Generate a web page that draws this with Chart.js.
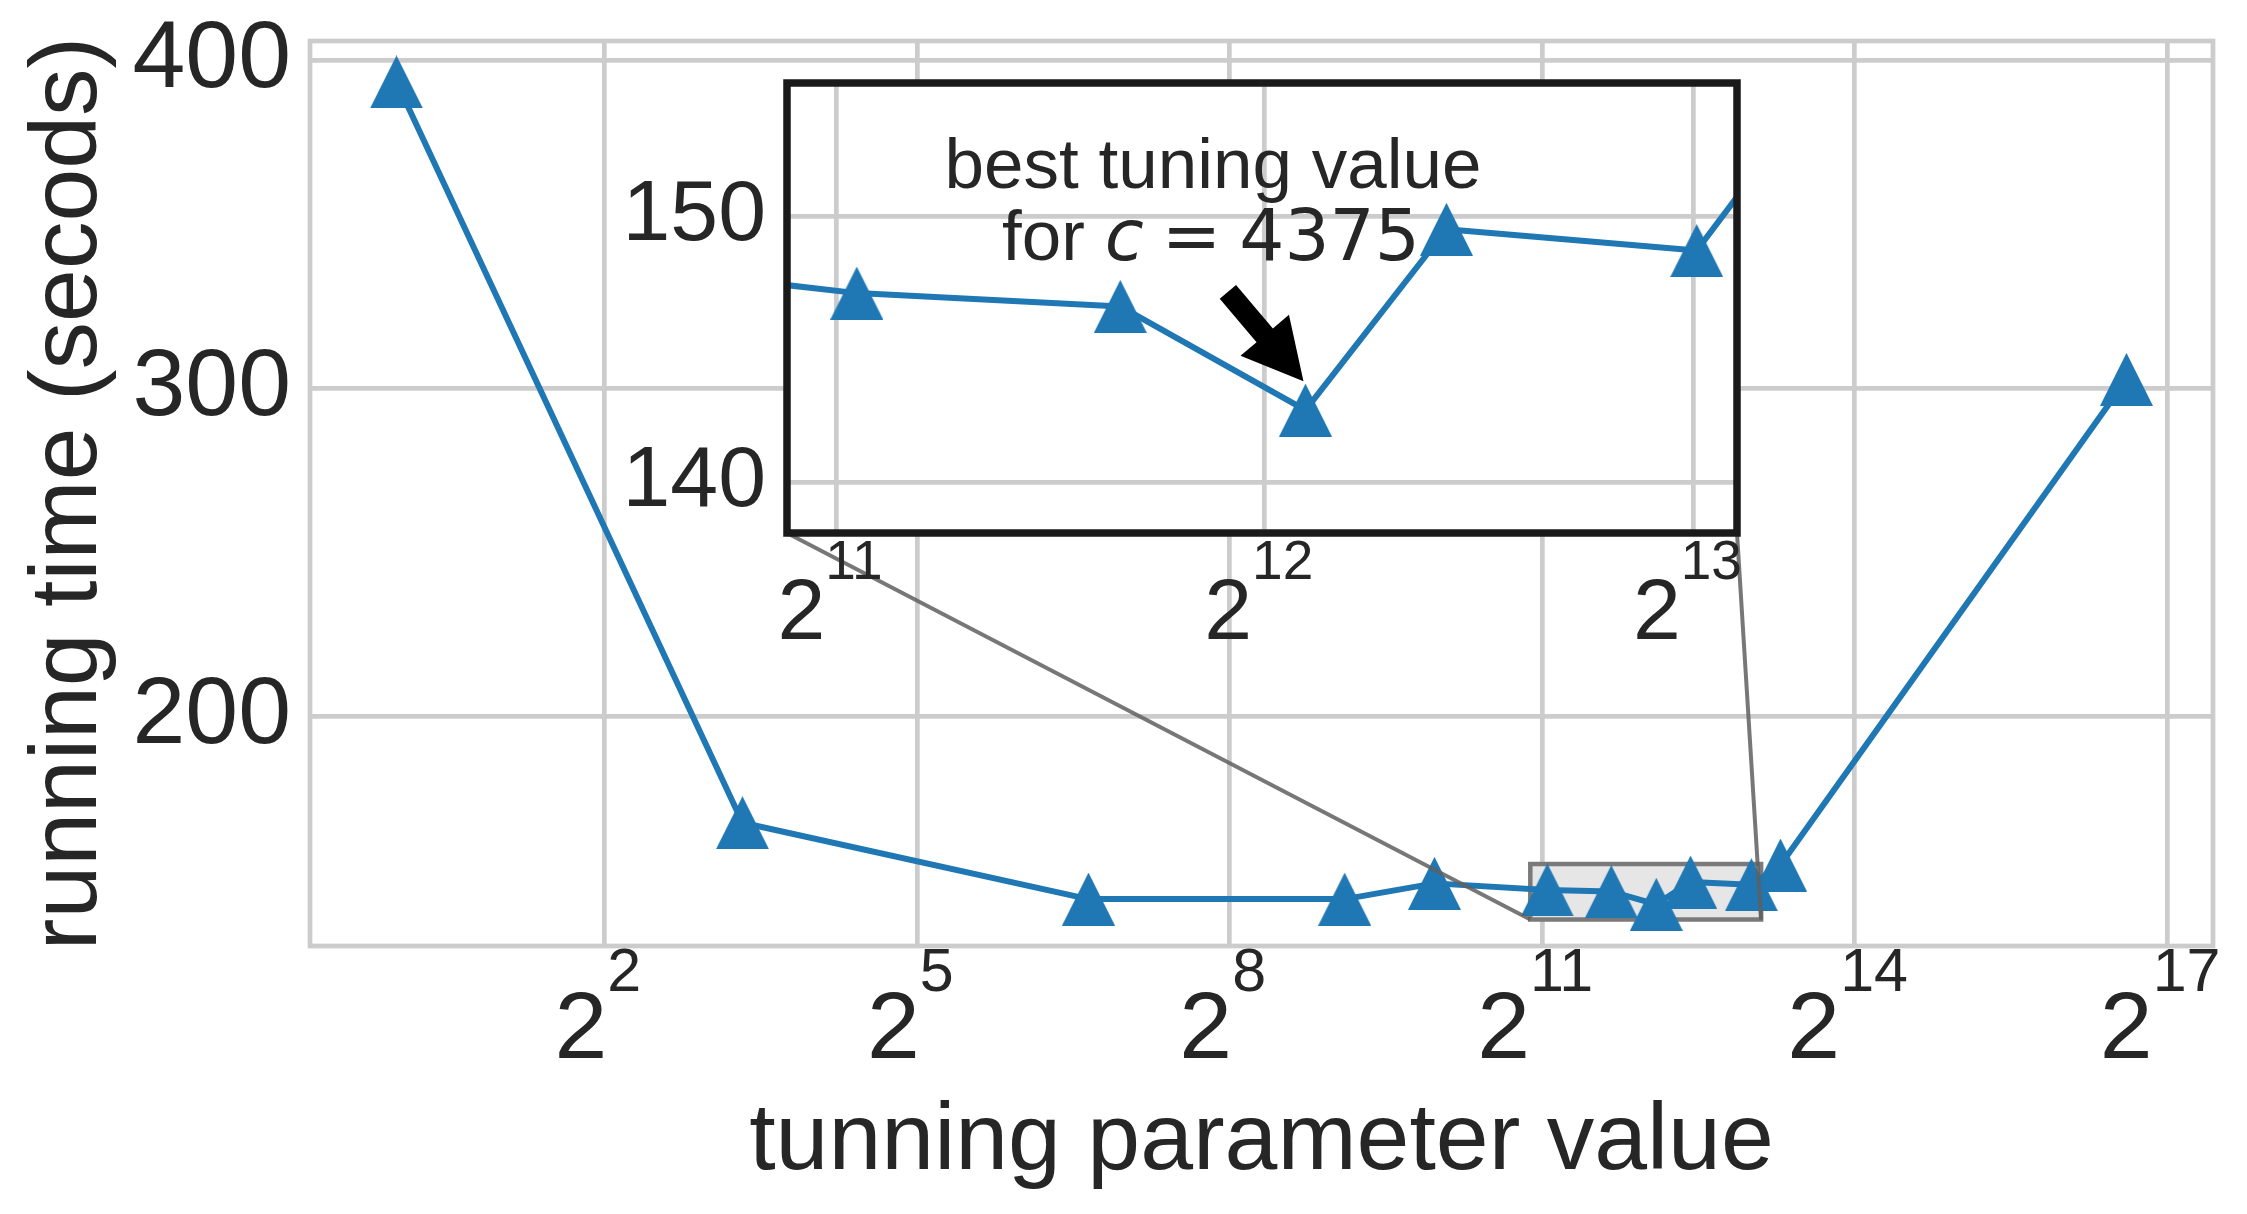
<!DOCTYPE html>
<html>
<head>
<meta charset="utf-8">
<title>running time vs tuning parameter</title>
<script src="https://cdn.jsdelivr.net/npm/chart.js@4.4.0/dist/chart.umd.min.js"></script>
<style>
    html, body { margin: 0; padding: 0; background: #ffffff; }
    #wrap { position: relative; width: 2247px; height: 1214px; }
    #main { position: absolute; left: 0; top: 0; }
    #inset { position: absolute; left: 600px; top: 60px; }
</style>
</head>
<body>
<div id="wrap">
    <canvas id="main" width="2247" height="1214"></canvas>
    <canvas id="inset" width="1160" height="600"></canvas>
</div>
<script>
// values
var tuningValues = [1, 10, 100, 550, 1000, 2118, 3243, 4375, 5495, 8236, 10000, 100000];
var runningTimes = [393.5, 167.6, 144.3, 144.3, 149.1, 147.1, 146.6, 142.7, 149.5, 148.7, 154.7, 302.8];
var mainXExps = [2, 5, 8, 11, 14, 17];     // tick labels 2^k
var mainYTicks = [200, 300, 400];
var insetXExps = [11, 12, 13];
var insetYTicks = [140, 150];
var bestValue = 4375;
var xTitle = "tunning parameter value";
var yTitle = "running time (secods)";
var noteLine1 = "best tuning value";

// axis limits
var mainX = [Math.pow(10, -0.25), Math.pow(10, 5.25)];
var mainY = [130, 406];
var insetX = [1892, 8790];
var insetY = [138.08, 155.0];

var FONT = "'Liberation Sans', Arial, sans-serif";
var MATH = "'DejaVu Sans', sans-serif";
var INK = "#262626";
var GRID = "#cccccc";
var BLUE = "#1f77b4";
var INSET_LEFT = 600, INSET_TOP = 60;

function triangleMarker(size, color) {
    var c = document.createElement("canvas");
    c.width = size;
    c.height = size;
    var g = c.getContext("2d");
    g.fillStyle = color;
    g.beginPath();
    g.moveTo(size / 2, 0);
    g.lineTo(size, size);
    g.lineTo(0, size);
    g.closePath();
    g.fill();
    return c;
}
var marker = triangleMarker(53, BLUE);

function points() {
    return tuningValues.map(function(v, i) {
        return { x: v, y: runningTimes[i] };
    });
}

function dataset() {
    return {
        data: points(),
        borderColor: BLUE,
        backgroundColor: BLUE,
        borderWidth: 6,
        borderJoinStyle: "round",
        pointStyle: marker,
        pointRadius: 26,
        pointHoverRadius: 26,
        tension: 0,
        clip: 0
    };
}

// "2" with the exponent as a superscript, placed on the x scale
function powerLabels(chart, exps, o) {
    var ctx = chart.ctx, xs = chart.scales.x, area = chart.chartArea;
    ctx.save();
    ctx.fillStyle = INK;
    ctx.textBaseline = "alphabetic";
    ctx.textAlign = "left";
    exps.forEach(function(k) {
        var px = xs.getPixelForValue(Math.pow(2, k));
        ctx.font = o.base + "px " + FONT;
        var wb = ctx.measureText("2").width;
        ctx.font = o.sup + "px " + FONT;
        var ws = ctx.measureText(String(k)).width;
        var x0 = px + o.shift - (wb + ws) / 2;
        ctx.font = o.base + "px " + FONT;
        ctx.fillText("2", x0, area.bottom + o.baseDy);
        ctx.font = o.sup + "px " + FONT;
        ctx.fillText(String(k), x0 + wb, area.bottom + o.supDy);
    });
    ctx.restore();
}

function fixedTicks(list) {
    return function(scale) {
        scale.ticks = list.map(function(v) { return { value: v }; });
    };
}

// ---------- inset ----------
var insetPlugin = {
    id: "insetDecor",
    beforeDraw: function(chart) {
        var a = chart.chartArea, ctx = chart.ctx;
        ctx.save();
        ctx.fillStyle = "#ffffff";
        ctx.fillRect(a.left, a.top, a.right - a.left, a.bottom - a.top);
        ctx.restore();
    },
    afterDatasetsDraw: function(chart) {
        var a = chart.chartArea, ctx = chart.ctx;
        var xs = chart.scales.x, ys = chart.scales.y;
        ctx.save();
        ctx.strokeStyle = "#1a1a1a";
        ctx.lineWidth = 7.5;
        ctx.strokeRect(a.left, a.top, a.right - a.left, a.bottom - a.top);

        // arrow to the best point
        var bi = tuningValues.indexOf(bestValue);
        var px = xs.getPixelForValue(bestValue), py = ys.getPixelForValue(runningTimes[bi]);
        var tip = [px - 2, py - 29];
        var u = [-0.646, -0.763], n = [0.763, -0.646];
        var hb = [tip[0] + u[0] * 60, tip[1] + u[1] * 60];
        var tail = [tip[0] + u[0] * 117, tip[1] + u[1] * 117];
        var hw = 31.75, sw = 10.7;
        ctx.fillStyle = "#000000";
        ctx.beginPath();
        ctx.moveTo(tip[0], tip[1]);
        ctx.lineTo(hb[0] + n[0] * hw, hb[1] + n[1] * hw);
        ctx.lineTo(hb[0] + n[0] * sw, hb[1] + n[1] * sw);
        ctx.lineTo(tail[0] + n[0] * sw, tail[1] + n[1] * sw);
        ctx.lineTo(tail[0] - n[0] * sw, tail[1] - n[1] * sw);
        ctx.lineTo(hb[0] - n[0] * sw, hb[1] - n[1] * sw);
        ctx.lineTo(hb[0] - n[0] * hw, hb[1] - n[1] * hw);
        ctx.closePath();
        ctx.fill();

        // annotation text
        ctx.fillStyle = INK;
        ctx.textBaseline = "alphabetic";
        ctx.textAlign = "center";
        ctx.font = "71px " + FONT;
        ctx.fillText(noteLine1, 613, 128);

        ctx.textAlign = "left";
        var parts = [
            { t: "for ", f: "71px " + FONT, gap: 0 },
            { t: "c", f: "italic 71px " + MATH, gap: 18 },
            { t: "=", f: "71px " + MATH, gap: 18 },
            { t: String(bestValue), f: "71px " + MATH, gap: 0 }
        ];
        var total = 0;
        parts.forEach(function(p) {
            ctx.font = p.f;
            p.w = ctx.measureText(p.t).width;
            total += p.w + p.gap;
        });
        var x = 611 - total / 2;
        parts.forEach(function(p) {
            ctx.font = p.f;
            ctx.fillText(p.t, x, 200);
            x += p.w + p.gap;
        });
        ctx.restore();
    },
    afterDraw: function(chart) {
        powerLabels(chart, insetXExps, { base: 86, sup: 55, shift: -6, baseDy: 106, supDy: 46 });
    }
};

var insetChart = new Chart(document.getElementById("inset"), {
    type: "line",
    data: { datasets: [dataset()] },
    options: {
        responsive: false,
        maintainAspectRatio: false,
        devicePixelRatio: 1,
        animation: false,
        events: [],
        layout: { autoPadding: false, padding: { left: 0, top: 23, right: 23, bottom: 0 } },
        plugins: { legend: { display: false }, tooltip: { enabled: false } },
        scales: {
            x: {
                type: "logarithmic",
                min: insetX[0],
                max: insetX[1],
                bounds: "data",
                afterBuildTicks: fixedTicks(insetXExps.map(function(k) { return Math.pow(2, k); })),
                afterFit: function(s) { s.height = 127; s.paddingLeft = 0; s.paddingRight = 0; },
                ticks: { display: false },
                grid: { color: GRID, lineWidth: 4.7, drawTicks: false },
                border: { display: false }
            },
            y: {
                type: "linear",
                min: insetY[0],
                max: insetY[1],
                bounds: "data",
                afterBuildTicks: fixedTicks(insetYTicks),
                afterFit: function(s) { s.width = 187; s.paddingTop = 0; s.paddingBottom = 0; },
                ticks: { color: INK, font: { family: FONT, size: 86 }, padding: 21 },
                grid: { color: GRID, lineWidth: 4.7, drawTicks: false },
                border: { display: false }
            }
        }
    },
    plugins: [insetPlugin]
});

// ---------- main ----------
var mainPlugin = {
    id: "mainDecor",
    beforeDatasetsDraw: function(chart) {
        var a = chart.chartArea, ctx = chart.ctx;
        var xs = chart.scales.x, ys = chart.scales.y;
        ctx.save();
        ctx.strokeStyle = GRID;
        ctx.lineWidth = 4.7;
        ctx.strokeRect(a.left, a.top, a.right - a.left, a.bottom - a.top);
        // zoomed region
        var x0 = xs.getPixelForValue(insetX[0]), x1 = xs.getPixelForValue(insetX[1]);
        var y0 = ys.getPixelForValue(insetY[1]), y1 = ys.getPixelForValue(insetY[0]);
        ctx.fillStyle = "#e6e6e6";
        ctx.fillRect(x0, y0, x1 - x0, y1 - y0);
        ctx.strokeStyle = "#7a7a7a";
        ctx.lineWidth = 4.5;
        ctx.strokeRect(x0, y0, x1 - x0, y1 - y0);
        ctx.restore();
    },
    afterDatasetsDraw: function(chart) {
        var ctx = chart.ctx, xs = chart.scales.x, ys = chart.scales.y;
        var ia = insetChart.chartArea;
        var x0 = xs.getPixelForValue(insetX[0]), x1 = xs.getPixelForValue(insetX[1]);
        var yb = ys.getPixelForValue(insetY[0]);
        ctx.save();
        ctx.strokeStyle = "rgba(95,95,95,0.85)";
        ctx.lineWidth = 4;
        ctx.beginPath();
        ctx.moveTo(INSET_LEFT + ia.left, INSET_TOP + ia.bottom);
        ctx.lineTo(x0, yb);
        ctx.moveTo(INSET_LEFT + ia.right, INSET_TOP + ia.bottom);
        ctx.lineTo(x1, yb);
        ctx.stroke();
        ctx.restore();
    },
    afterDraw: function(chart) {
        var a = chart.chartArea, ctx = chart.ctx;
        powerLabels(chart, mainXExps, { base: 95, sup: 61, shift: -7, baseDy: 112, supDy: 45 });
        ctx.save();
        ctx.fillStyle = INK;
        ctx.font = "95px " + FONT;
        ctx.textAlign = "center";
        ctx.textBaseline = "alphabetic";
        ctx.fillText(xTitle, (a.left + a.right) / 2, 1169);
        ctx.translate(96, (a.top + a.bottom) / 2);
        ctx.rotate(-Math.PI / 2);
        ctx.fillText(yTitle, 0, 0);
        ctx.restore();
    }
};

var mainChart = new Chart(document.getElementById("main"), {
    type: "line",
    data: { datasets: [dataset()] },
    options: {
        responsive: false,
        maintainAspectRatio: false,
        devicePixelRatio: 1,
        animation: false,
        events: [],
        layout: { autoPadding: false, padding: { left: 0, top: 41, right: 34, bottom: 0 } },
        plugins: { legend: { display: false }, tooltip: { enabled: false } },
        scales: {
            x: {
                type: "logarithmic",
                min: mainX[0],
                max: mainX[1],
                bounds: "data",
                afterBuildTicks: fixedTicks(mainXExps.map(function(k) { return Math.pow(2, k); })),
                afterFit: function(s) { s.height = 268; s.paddingLeft = 0; s.paddingRight = 0; },
                ticks: { display: false },
                grid: { color: GRID, lineWidth: 4.7, drawTicks: false },
                border: { display: false }
            },
            y: {
                type: "linear",
                min: mainY[0],
                max: mainY[1],
                bounds: "data",
                afterBuildTicks: fixedTicks(mainYTicks),
                afterFit: function(s) { s.width = 310; s.paddingTop = 0; s.paddingBottom = 0; },
                ticks: { color: INK, font: { family: FONT, size: 95 }, padding: 19 },
                grid: { color: GRID, lineWidth: 4.7, drawTicks: false },
                border: { display: false }
            }
        }
    },
    plugins: [mainPlugin]
});
</script>
</body>
</html>
